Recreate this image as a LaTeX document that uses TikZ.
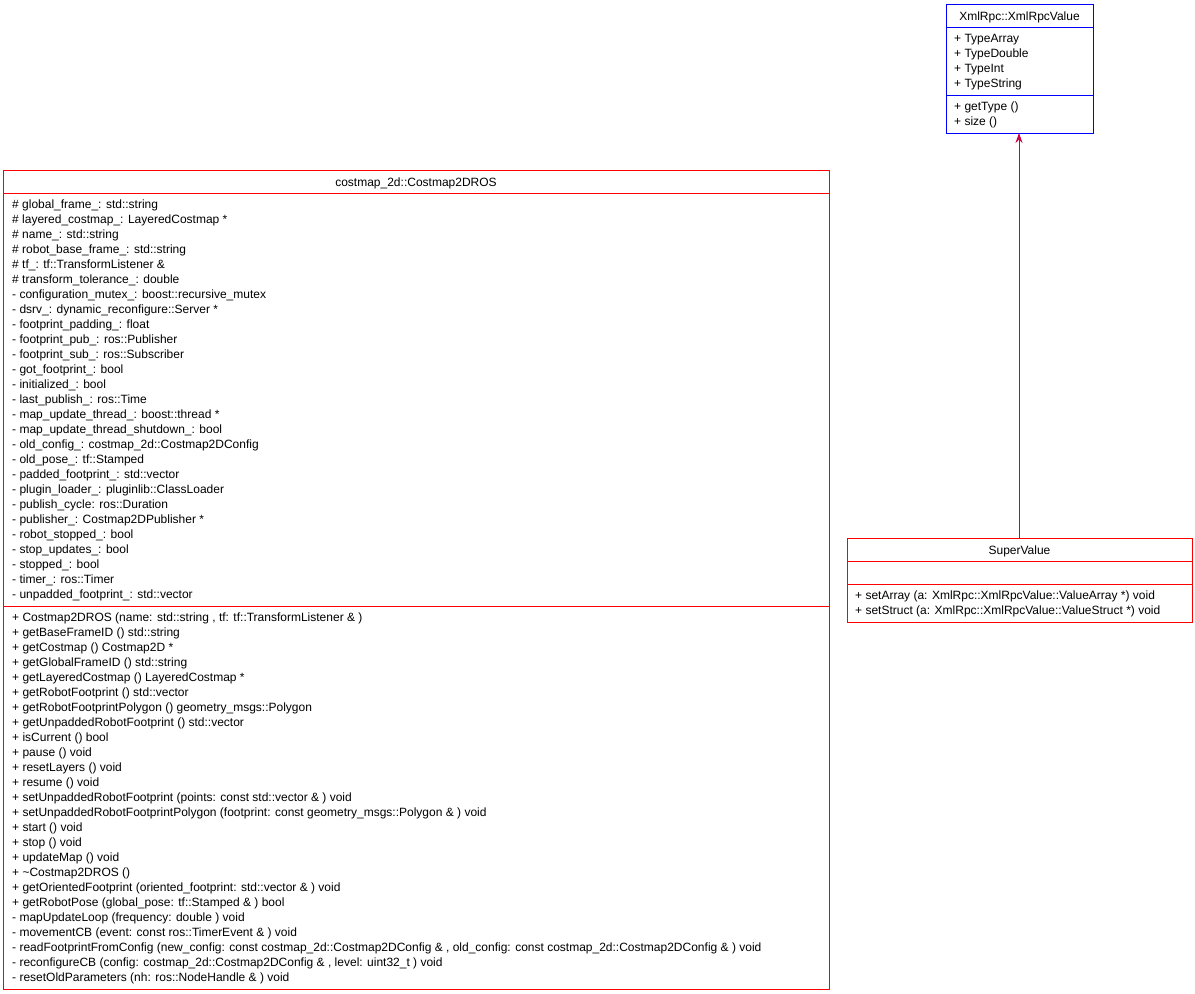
\documentclass[tikz,border=0pt]{standalone}
\usepackage{fontspec}
\setmainfont{Liberation Sans}
\usetikzlibrary{arrows.meta}
\definecolor{boxred}{RGB}{255,0,0}
\definecolor{boxblue}{RGB}{0,0,255}
\definecolor{arrowred}{RGB}{204,0,68}
\tikzset{
  txt/.style={anchor=base west,inner sep=0pt,font=\fontsize{12}{15}\selectfont},
  ttl/.style={anchor=base,inner sep=0pt,font=\fontsize{12}{15}\selectfont},
  redbox/.style={draw=boxred,line width=0.8pt},
  bluebox/.style={draw=boxblue,line width=0.8pt},
}
\begin{document}
\begin{tikzpicture}[x=1pt,y=-1pt]
\useasboundingbox (0,0) rectangle (1195,994);
% Costmap2DROS
\draw[redbox] (3,170) rectangle (829,989);
\draw[redbox] (3,193) -- (829,193);
\draw[redbox] (3,606) -- (829,606);
\node[ttl] (ct) at (416,186) {costmap\_2d::Costmap2DROS};
\foreach [count=\i from 0] \t in {
{\# global\_frame\_: std::string},
{\# layered\_costmap\_: LayeredCostmap *},
{\# name\_: std::string},
{\# robot\_base\_frame\_: std::string},
{\# tf\_: tf::TransformListener \&},
{\# transform\_tolerance\_: double},
{- configuration\_mutex\_: boost::recursive\_mutex},
{- dsrv\_: dynamic\_reconfigure::Server *},
{- footprint\_padding\_: float},
{- footprint\_pub\_: ros::Publisher},
{- footprint\_sub\_: ros::Subscriber},
{- got\_footprint\_: bool},
{- initialized\_: bool},
{- last\_publish\_: ros::Time},
{- map\_update\_thread\_: boost::thread *},
{- map\_update\_thread\_shutdown\_: bool},
{- old\_config\_: costmap\_2d::Costmap2DConfig},
{- old\_pose\_: tf::Stamped},
{- padded\_footprint\_: std::vector},
{- plugin\_loader\_: pluginlib::ClassLoader},
{- publish\_cycle: ros::Duration},
{- publisher\_: Costmap2DPublisher *},
{- robot\_stopped\_: bool},
{- stop\_updates\_: bool},
{- stopped\_: bool},
{- timer\_: ros::Timer},
{- unpadded\_footprint\_: std::vector}}
  \node[txt] (ca\i) at (12,{208+15*\i}) {\t};
\foreach [count=\i from 0] \t in {
{+ Costmap2DROS (name: std::string , tf: tf::TransformListener \& )},
{+ getBaseFrameID () std::string},
{+ getCostmap () Costmap2D *},
{+ getGlobalFrameID () std::string},
{+ getLayeredCostmap () LayeredCostmap *},
{+ getRobotFootprint () std::vector},
{+ getRobotFootprintPolygon () geometry\_msgs::Polygon},
{+ getUnpaddedRobotFootprint () std::vector},
{+ isCurrent () bool},
{+ pause () void},
{+ resetLayers () void},
{+ resume () void},
{+ setUnpaddedRobotFootprint (points: const std::vector \& ) void},
{+ setUnpaddedRobotFootprintPolygon (footprint: const geometry\_msgs::Polygon \& ) void},
{+ start () void},
{+ stop () void},
{+ updateMap () void},
{+ \textasciitilde Costmap2DROS ()},
{+ getOrientedFootprint (oriented\_footprint: std::vector \& ) void},
{+ getRobotPose (global\_pose: tf::Stamped \& ) bool},
{- mapUpdateLoop (frequency: double ) void},
{- movementCB (event: const ros::TimerEvent \& ) void},
{- readFootprintFromConfig (new\_config: const costmap\_2d::Costmap2DConfig \& , old\_config: const costmap\_2d::Costmap2DConfig \& ) void},
{- reconfigureCB (config: costmap\_2d::Costmap2DConfig \& , level: uint32\_t ) void},
{- resetOldParameters (nh: ros::NodeHandle \& ) void}}
  \node[txt] (cm\i) at (12,{621+15*\i}) {\t};
% XmlRpcValue
\draw[bluebox] (946,4) rectangle (1093,133);
\draw[bluebox] (946,27) -- (1093,27);
\draw[bluebox] (946,95) -- (1093,95);
\node[ttl] (xt) at (1019.5,20) {XmlRpc::XmlRpcValue};
\node[txt] (xa0) at (954,42) {+ TypeArray};
\node[txt] (xa1) at (954,57) {+ TypeDouble};
\node[txt] (xa2) at (954,72) {+ TypeInt};
\node[txt] (xa3) at (954,87) {+ TypeString};
\node[txt] (xm0) at (954,110) {+ getType ()};
\node[txt] (xm1) at (954,125) {+ size ()};
\coordinate (xbot) at (1019,133);
% SuperValue
\draw[redbox] (847,538) rectangle (1192,622);
\draw[redbox] (847,561) -- (1192,561);
\draw[redbox] (847,584) -- (1192,584);
\node[ttl] (st) at (1019.5,554) {SuperValue};
\node[txt] (sm0) at (855,599) {+ setArray (a: XmlRpc::XmlRpcValue::ValueArray *) void};
\node[txt] (sm1) at (855,614) {+ setStruct (a: XmlRpc::XmlRpcValue::ValueStruct *) void};
\coordinate (stop) at (1019,538);
\draw[arrowred,line width=0.8pt,-{Stealth[length=10pt,width=7pt]}] (stop) -- (xbot);
\end{tikzpicture}
\end{document}
